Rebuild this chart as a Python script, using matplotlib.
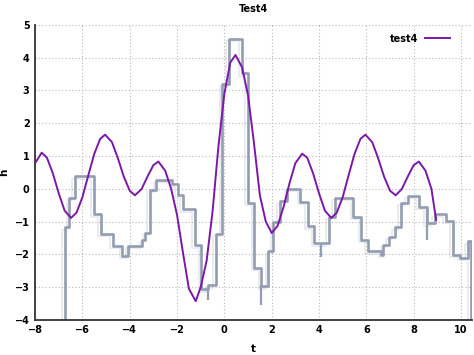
import numpy as np
import matplotlib.pyplot as plt
import matplotlib.transforms as mtransforms

# curva suave
t_curve = [-8.0, -7.72, -7.5, -7.25, -7.0, -6.75, -6.48, -6.25, -6.0, -5.75, -5.5, -5.25,
           -5.04, -4.75, -4.5, -4.25, -4.0, -3.78, -3.5, -3.25, -3.0, -2.79, -2.5, -2.25,
           -2.0, -1.75, -1.5, -1.21, -1.0, -0.75, -0.5, -0.25, 0.0, 0.25, 0.47, 0.75,
           1.0, 1.25, 1.5, 1.75, 2.0, 2.25, 2.5, 2.75, 3.0, 3.29, 3.5, 3.75, 4.0, 4.25,
           4.52, 4.75, 5.0, 5.25, 5.5, 5.75, 5.96, 6.25, 6.5, 6.75, 7.0, 7.24, 7.5, 7.75,
           8.0, 8.22, 8.5, 8.75, 8.95]
h_curve = [0.78, 1.1, 0.95, 0.47, -0.14, -0.67, -0.89, -0.73, -0.26, 0.41, 1.06, 1.52,
           1.65, 1.42, 0.93, 0.37, -0.06, -0.2, -0.01, 0.37, 0.72, 0.83, 0.55, 0.0,
           -0.8, -1.95, -3.05, -3.43, -3.0, -2.2, -0.7, 1.3, 2.9, 3.85, 4.08, 3.7,
           2.85, 1.4, -0.2, -1.0, -1.35, -1.13, -0.56, 0.16, 0.78, 1.07, 0.95, 0.47, -0.14, -0.67,
           -0.89, -0.73, -0.26, 0.41, 1.06, 1.52, 1.65, 1.42, 0.93, 0.37, -0.06, -0.2, -0.01, 0.37,
           0.72, 0.83, 0.55, 0.0, -0.95]

# escalones
step_t = [-6.74, -6.74, -6.56, -6.32, -5.52, -5.22, -4.72, -4.32, -4.06, -3.48, -3.34,
          -3.16, -2.88, -2.2, -1.98, -1.76, -1.26, -0.98, -0.68, -0.36, -0.08, 0.18, 0.74,
          0.98, 1.27, 1.55, 1.86, 2.06, 2.34, 2.66, 3.2, 3.52, 3.8, 4.42, 4.66, 5.45, 5.78,
          6.05, 6.63, 6.72, 6.95, 7.2, 7.46, 7.74, 8.22, 8.56, 8.9, 9.36, 9.66, 9.96, 10.29,
          10.42, 10.42]
step_h = [-4.0, -1.18, -0.28, 0.38, -0.78, -1.38, -1.74, -2.04, -1.74, -1.55, -1.35,
          -0.03, 0.28, 0.14, -0.2, -0.62, -1.72, -3.06, -2.95, -1.38, 3.2, 4.57, 3.52,
          -0.42, -2.41, -2.97, -1.9, -1.0, -0.38, 0.0, -0.4, -1.15, -1.67, -0.85, -0.27, -0.86, -1.55,
          -1.9, -2.02, -1.71, -1.47, -1.18, -0.42, -0.21, -0.55, -1.05, -0.78, -0.97, -2.02, -2.1, -1.6,
          -4.0, -4.0]

# picos verticales
spike_t = [-0.68, 1.55, 4.1, 8.56]
spike_top = [-3.06, -2.95, -1.67, -0.55]
spike_bottom = [-3.4, -3.54, -2.08, -1.56]

fig = plt.figure(figsize=(4.74, 3.55), dpi=100)
ax = fig.add_axes([0.074, 0.099, 0.921, 0.831])

gray = '#939db1'
ghost = mtransforms.offset_copy(ax.transData, fig=fig, x=-2.5, y=-2.5, units='dots')
ax.step(step_t, step_h, where='post', color='#e8eaf0', lw=1.3, transform=ghost, zorder=1)
ax.step(step_t, step_h, where='post', color=gray, lw=1.9, zorder=2)
ax.vlines(spike_t, spike_bottom, spike_top, color=gray, lw=1.6, zorder=2)

ax.plot(t_curve, h_curve, color='#7b18a8', lw=1.4, label='test4', zorder=3)

ax.set_xlim(-8, 10.45)
ax.set_ylim(-4, 5)
ax.set_xticks(np.arange(-8, 11, 2))
ax.set_yticks(np.arange(-4, 6, 1))
ax.grid(True, linestyle=(0, (1, 2)), color='#b8b8b8', lw=0.8)
ax.tick_params(length=0, labelsize=7, pad=4)
for lab in ax.get_xticklabels() + ax.get_yticklabels():
    lab.set_fontweight('bold')
for s in ['top', 'right']:
    ax.spines[s].set_visible(False)
for s in ['left', 'bottom']:
    ax.spines[s].set_color('#333333')
    ax.spines[s].set_linewidth(1.3)

ax.set_title('Test4', fontsize=7, fontweight='bold', pad=9)
ax.set_xlabel('t', fontsize=7.5, fontweight='bold', labelpad=6)
ax.set_ylabel('h', fontsize=7.5, fontweight='bold', labelpad=4)

leg = ax.legend(loc='upper right', bbox_to_anchor=(0.97, 1.0), frameon=False,
                prop={'size': 7, 'weight': 'bold'}, markerfirst=False,
                handlelength=2.6, handletextpad=0.6)

plt.savefig('out.png', dpi=100)
plt.close()
